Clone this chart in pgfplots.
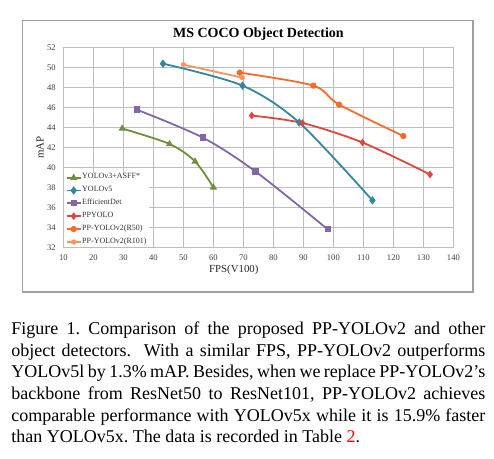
\documentclass[border=0pt]{standalone}
\usepackage{fontspec}
\setmainfont{Liberation Serif}
\usepackage{pgfplots}
\pgfplotsset{compat=1.18}
\definecolor{gridgray}{HTML}{BDBDBD}
\definecolor{framegray}{HTML}{A0A0A0}
\definecolor{cgreen}{HTML}{6F8F3A}
\definecolor{cteal}{HTML}{34879D}
\definecolor{cpurple}{HTML}{8266A8}
\definecolor{cred}{HTML}{DE473D}
\definecolor{corange}{HTML}{F46C2C}
\definecolor{clorange}{HTML}{F8935C}
\begin{document}
\begin{tikzpicture}
\path[use as bounding box] (0pt,0pt) rectangle (247pt,229.5pt);
\begin{axis}[
  at={(31.7pt,105.85pt)}, anchor=south west,
  scale only axis, width=195pt, height=99.8pt,
  xmin=10, xmax=140, ymin=32, ymax=52,
  xtick={10,20,...,140}, ytick={32,34,...,52},
  clip=false,
  grid=major,
  major grid style={draw=gridgray, line width=0.5pt},
  axis line style={draw=gridgray, line width=0.5pt},
  tick style={draw=none},
  /pgf/number format/assume math mode=true,
  tick label style={font=\fontsize{4.3}{5}\selectfont, text=black!75},
  xticklabel style={anchor=center, inner sep=0pt, yshift=-5pt},
  yticklabel style={anchor=east, inner sep=0pt, xshift=-3.7pt},
  title={\textbf{MS COCO Object Detection}},
  every axis title/.style={font=\fontsize{7}{8}\selectfont, at={(axis description cs:0.5,1.0666)}, anchor=center, inner sep=0pt},
  xlabel={FPS(V100)},
  xlabel style={font=\fontsize{5.4}{6}\selectfont, at={(axis description cs:0.437,-0.1137)}, anchor=center, inner sep=0pt, text=black!85},
  ylabel={mAP},
  ylabel style={font=\fontsize{5.4}{6}\selectfont, at={(axis description cs:-0.06,0.5)}, anchor=center, inner sep=0pt, text=black!85},
  legend style={at={(axis description cs:0,0)}, anchor=south west, draw=none, fill=white,
    font=\fontsize{4}{4.5}\selectfont, inner xsep=1pt, inner ysep=0pt, row sep=1.6pt,
    nodes={inner sep=0.3pt, text=black!80}},
  legend cell align=left,
  legend image code/.code={\draw[mark repeat=2,mark phase=2,#1] plot coordinates {(0pt,0pt) (3.5pt,0pt) (7pt,0pt)};},
  every axis plot/.append style={line width=0.9pt, smooth, mark size=1.2pt},
]
\draw[draw=framegray, line width=0.8pt] (rel axis cs:-0.1046,-0.2239) rectangle (rel axis cs:1.0503,1.1358);
\addplot[color=cgreen, mark=triangle*] coordinates {(29.6,43.9) (45.4,42.35) (53.9,40.6) (60.0,38.0)};
\addlegendentry{YOLOv3+ASFF*}
\addplot[color=cteal, mark=diamond*, mark size=1.4pt] coordinates {(43.2,50.4) (69.7,48.2) (88.6,44.5) (113.0,36.7)};
\addlegendentry{YOLOv5}
\addplot[color=cpurple, mark=square*, mark size=1.1pt] coordinates {(34.4,45.8) (56.4,43.0) (74.0,39.6) (98.1,33.8)};
\addlegendentry{EfficientDet}
\addplot[color=cred, mark=diamond*, mark size=1.2pt] coordinates {(72.8,45.2) (89.7,44.45) (109.7,42.5) (132.2,39.3)};
\addlegendentry{PPYOLO}
\addplot[color=corange, mark=*, mark size=1.1pt] coordinates {(68.8,49.5) (93.3,48.2) (101.9,46.3) (123.3,43.15)};
\addlegendentry{PP-YOLOv2(R50)}
\addplot[color=clorange, mark=asterisk, mark size=1.3pt] coordinates {(50.0,50.3) (69.6,49.0)};
\addlegendentry{PP-YOLOv2(R101)}
\end{axis}
\node[anchor=base west, inner sep=0pt, text width=237pt, align=justify,
  font=\fontsize{9}{10.85}\selectfont] at (5.5pt,62.3pt)
  {\hyphenpenalty=10000\exhyphenpenalty=10000\frenchspacing
  Figure 1. Comparison of the proposed PP-YOLOv2 and other\linebreak
  object detectors.\ \ With a similar FPS, PP-YOLOv2 outperforms\linebreak
  YOLOv5l by 1.3\% mAP. Besides, when we replace PP-YOLOv2's\linebreak
  backbone from ResNet50 to ResNet101, PP-YOLOv2 achieves\linebreak
  comparable performance with YOLOv5x while it is 15.9\% faster\linebreak
  than YOLOv5x. The data is recorded in Table \textcolor{red}{2}.};
\end{tikzpicture}
\end{document}
